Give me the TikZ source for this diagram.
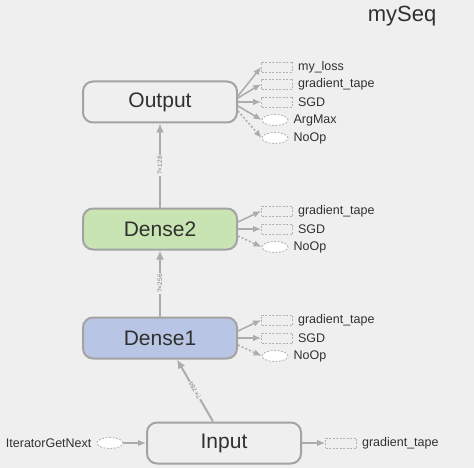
\documentclass[tikz,border=0pt]{standalone}
\usepackage{fontspec}
\setmainfont{Liberation Sans}
\usepackage{tikz}
\usetikzlibrary{
  arrows.meta, shapes.geometric,
  positioning
}
\usepackage{xcolor}
\definecolor{bggray}{RGB}{239,239,239}
\definecolor{linegray}{RGB}{163,163,163}
\definecolor{edgegray}{RGB}{172,172,172}
\definecolor{auxgray}{RGB}{178,178,178}
\definecolor{txtdark}{RGB}{48,48,48}
\definecolor{densegreen}{RGB}{199,228,178}
\definecolor{denseblue}{RGB}{184,197,228}
\tikzset{
  layerop/.style={
    rectangle, rounded corners=10pt, draw=linegray, line width=2pt,
    fill=#1, minimum width=154pt, minimum height=41pt,
    text=txtdark, font=\fontsize{21}{25}\selectfont
  },
  auxbox/.style={
    rectangle, draw=auxgray, line width=0.8pt, dash pattern=on 2pt off 1.5pt,
    minimum width=31pt, minimum height=10pt, inner sep=0pt
  },
  auxoval/.style={
    ellipse, draw=auxgray, line width=0.8pt, dash pattern=on 2pt off 1.5pt,
    fill=white, minimum width=26pt, minimum height=11pt, inner sep=0pt
  },
  auxtxt/.style={
    inner sep=0pt, text=txtdark, font=\fontsize{12.5}{14}\selectfont
  },
  flow/.style={-{Latex[length=9pt,width=8pt]}, line width=2pt, draw=edgegray},
  auxflow/.style={-{Latex[length=8pt,width=6.5pt]}, line width=1.5pt, draw=edgegray},
  ctrlflow/.style={auxflow, dash pattern=on 2pt off 2pt},
  dimlbl/.style={
    midway, sloped, allow upside down, fill=bggray, inner sep=1pt,
    text=gray, font=\fontsize{6.5}{7}\selectfont
  }
}

\begin{document}
\begin{tikzpicture}[x=1pt, y=-1pt]
  \fill[bggray] (0,0) rectangle (474,468);
  \useasboundingbox (0,0) rectangle (474,468);

  \node[text=txtdark, font=\fontsize{22}{26}\selectfont] (title) at (402,16) {mySeq};

  % main layers
  \node[layerop=bggray] (output) at (160,102) {Output};
  \node[layerop=densegreen] (dense2) at (160,229) {Dense2};
  \node[layerop=denseblue] (dense1) at (160,338) {Dense1};
  \node[layerop=bggray] (input) at (224,443) {Input};

  \draw[flow] ([xshift=-11pt]input.north) -- ([xshift=17pt]dense1.south)
    node[dimlbl] {?×784};
  \draw[flow] (dense1) -- (dense2) node[dimlbl] {?×256};
  \draw[flow] (dense2) -- (output) node[dimlbl] {?×128};

  % output side nodes
  \node[auxbox] (outLoss) at (277,67) {};
  \node[auxbox] (outTape) at (277,84) {};
  \node[auxbox] (outSgd) at (277,102) {};
  \node[auxoval] (outArgmax) at (275,120) {};
  \node[auxoval] (outNoop) at (275,138) {};
  \node[auxtxt, right=5pt of outLoss] (outLossTxt) {my\_loss};
  \node[auxtxt, right=5pt of outTape] (outTapeTxt) {gradient\_tape};
  \node[auxtxt, right=5pt of outSgd] (outSgdTxt) {SGD};
  \node[auxtxt, right=5pt of outArgmax] (outArgmaxTxt) {ArgMax};
  \node[auxtxt, right=5pt of outNoop] (outNoopTxt) {NoOp};

  \draw[auxflow] ([yshift=6pt]output.east) -- (outLoss.west);
  \draw[auxflow] ([yshift=4pt]output.east) -- (outTape.west);
  \draw[auxflow] (output.east) -- (outSgd.west);
  \draw[auxflow] ([yshift=-4pt]output.east) -- (outArgmax.west);
  \draw[ctrlflow] ([yshift=-9pt]output.east) -- (outNoop.west);

  % dense2 side nodes
  \node[auxbox] (d2Tape) at (277,211) {};
  \node[auxbox] (d2Sgd) at (277,229) {};
  \node[auxoval] (d2Noop) at (275,247) {};
  \node[auxtxt, right=5pt of d2Tape] (d2TapeTxt) {gradient\_tape};
  \node[auxtxt, right=5pt of d2Sgd] (d2SgdTxt) {SGD};
  \node[auxtxt, right=5pt of d2Noop] (d2NoopTxt) {NoOp};

  \draw[auxflow] ([yshift=7pt]dense2.east) -- (d2Tape.west);
  \draw[auxflow] (dense2.east) -- (d2Sgd.west);
  \draw[ctrlflow] ([yshift=-7pt]dense2.east) -- (d2Noop.west);

  % dense1 side nodes
  \node[auxbox] (d1Tape) at (277,320) {};
  \node[auxbox] (d1Sgd) at (277,338) {};
  \node[auxoval] (d1Noop) at (275,356) {};
  \node[auxtxt, right=5pt of d1Tape] (d1TapeTxt) {gradient\_tape};
  \node[auxtxt, right=5pt of d1Sgd] (d1SgdTxt) {SGD};
  \node[auxtxt, right=5pt of d1Noop] (d1NoopTxt) {NoOp};

  \draw[auxflow] ([yshift=7pt]dense1.east) -- (d1Tape.west);
  \draw[auxflow] (dense1.east) -- (d1Sgd.west);
  \draw[ctrlflow] ([yshift=-7pt]dense1.east) -- (d1Noop.west);

  % input side nodes
  \node[auxoval] (iterOval) at (110,443) {};
  \node[auxtxt, left=5pt of iterOval] (iterTxt) {IteratorGetNext};
  \node[auxbox] (inTape) at (341,443) {};
  \node[auxtxt, right=5pt of inTape] (inTapeTxt) {gradient\_tape};

  \draw[auxflow] (iterOval) -- (input);
  \draw[auxflow] (input) -- (inTape);
\end{tikzpicture}
\end{document}
